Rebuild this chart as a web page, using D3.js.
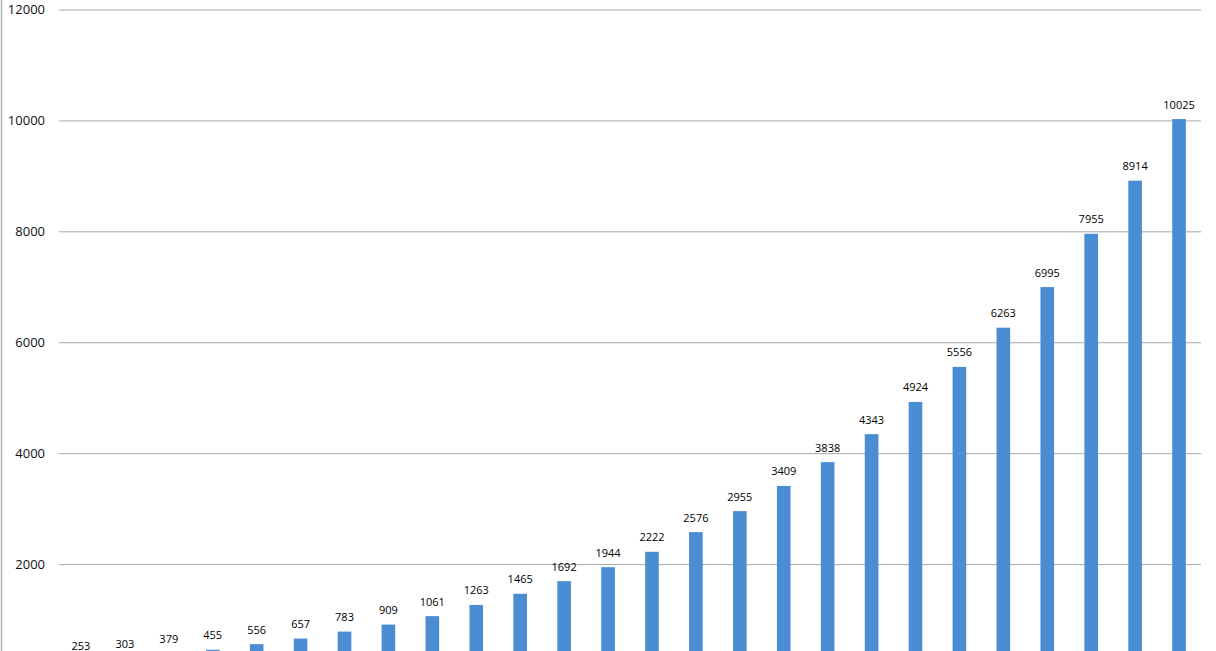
<!DOCTYPE html>
<html><head><meta charset="utf-8">
<script src="https://cdn.jsdelivr.net/npm/d3@7"></script>
<style>body{margin:0;background:#fff;overflow:hidden}svg{display:block}</style>
</head><body>
<svg id="c" width="1216" height="651"></svg>
<script>
const categories = d3.range(1, 27).map(String);
const values = [253,303,379,455,556,657,783,909,1061,1263,1465,1692,1944,2222,2576,2955,3409,3838,4343,4924,5556,6263,6995,7955,8914,10025];
const yTicks = [2000,4000,6000,8000,10000,12000];

const svg = d3.select("#c");
const W = 1216, H = 651;
const x = d3.scaleBand().domain(categories).range([59, 1201]).paddingInner(0.69).paddingOuter(0.345);
const y = d3.scaleLinear().domain([0, 12000]).range([675, 9.5]);

svg.append("rect").attr("width", W).attr("height", H).attr("fill", "#fff");
svg.append("line").attr("x1", 1.5).attr("x2", 1.5).attr("y1", 0).attr("y2", H).attr("stroke", "#b4b4b4").attr("stroke-width", 1.5);

const yAxis = d3.axisLeft(y).tickValues(yTicks).tickSize(-(1201 - 59)).tickPadding(14).tickFormat(d3.format("d"));
const g = svg.append("g").attr("transform", "translate(59,0)").call(yAxis);
g.select(".domain").remove();
g.selectAll(".tick line").attr("stroke", "#a8a8a8").attr("stroke-width", 1);
g.selectAll(".tick text").attr("font-family", "'Open Sans', 'Liberation Sans', sans-serif").attr("font-size", 13).attr("fill", "#111");

svg.append("g").selectAll("rect").data(values).join("rect")
  .attr("x", (d, i) => x(categories[i]))
  .attr("width", x.bandwidth())
  .attr("y", d => y(d))
  .attr("height", d => y(0) - y(d))
  .attr("fill", "#4a8dd2");

svg.append("g").selectAll("text").data(values).join("text")
  .attr("x", (d, i) => x(categories[i]) + x.bandwidth() / 2)
  .attr("y", d => y(d) - 10.5)
  .attr("text-anchor", "middle")
  .attr("font-family", "'Open Sans', 'Liberation Sans', sans-serif")
  .attr("font-size", 11)
  .attr("fill", "#000")
  .text(d => d);
</script>
</body></html>
